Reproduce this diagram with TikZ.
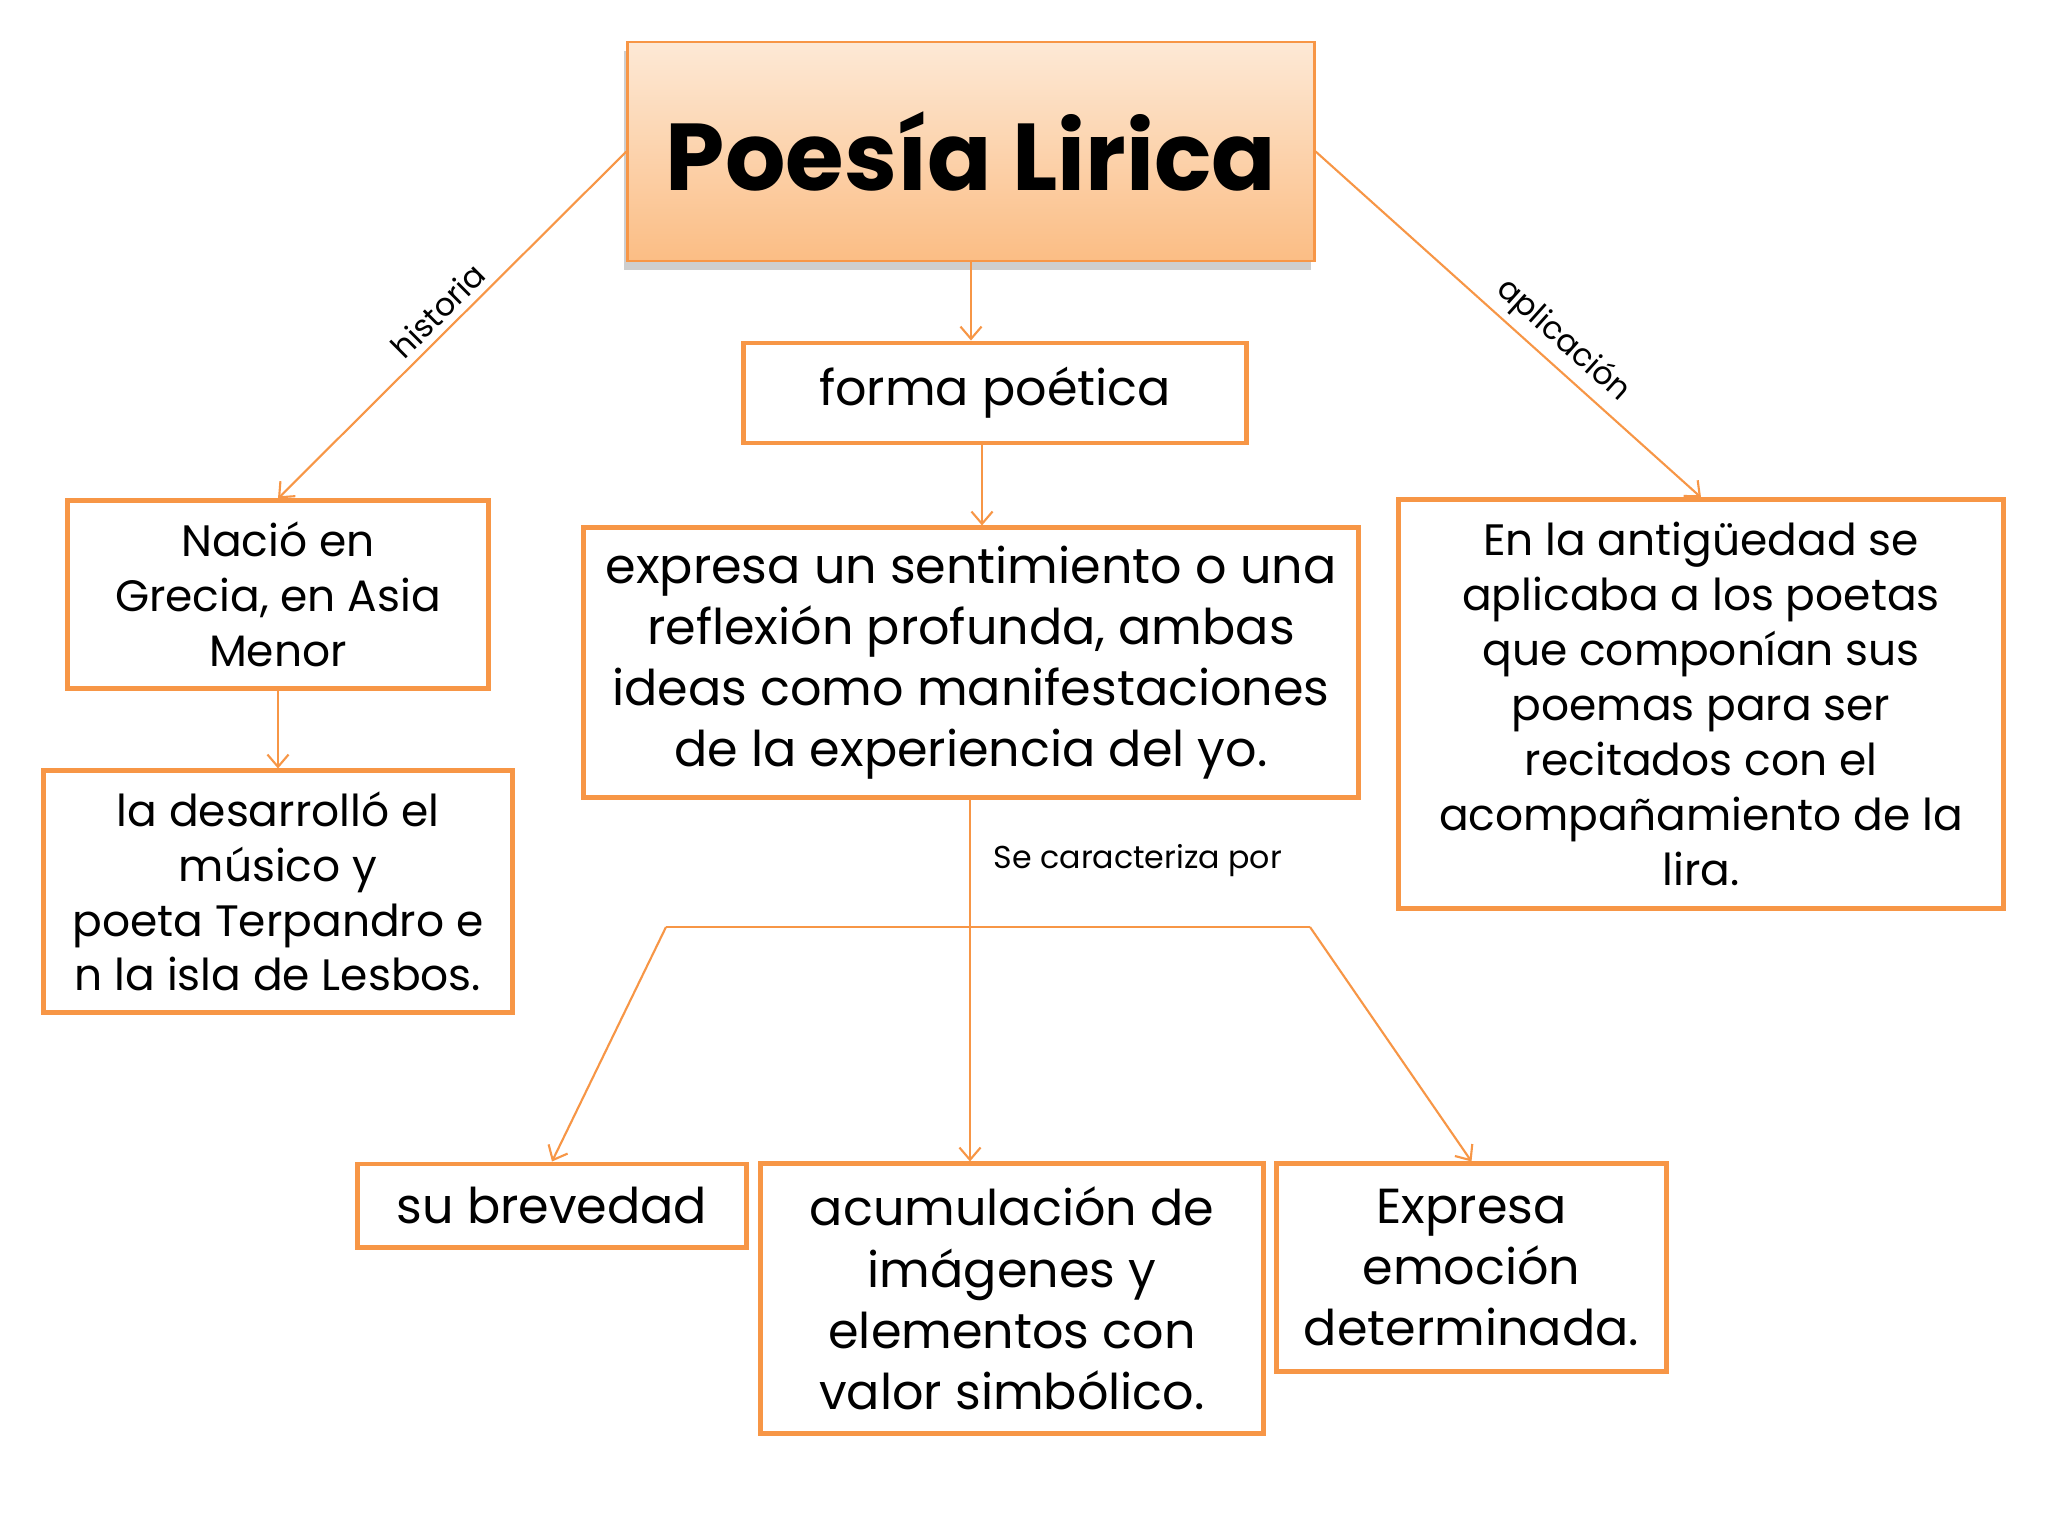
\documentclass[tikz,border=0pt]{standalone}
\usepackage{fontspec}
\setmainfont{Poppins}
\usetikzlibrary{arrows.meta,shadows}
\definecolor{lirorange}{RGB}{247,150,70}
\definecolor{lirtop}{RGB}{253,233,214}
\definecolor{lirbottom}{RGB}{251,189,132}
\tikzset{
  link/.style={-{Straight Barb[length=3.5pt,width=6pt]}, draw=lirorange, line width=0.6pt},
  plainlink/.style={draw=lirorange, line width=0.6pt},
  conceptbox/.style={draw=lirorange, line width=1.4pt, fill=white, align=center, inner sep=2pt},
  bigtext/.style={font=\fontsize{14}{17.4}\selectfont},
  smalltext/.style={font=\fontsize{12.5}{15.6}\selectfont},
  titlebox/.style={draw=lirorange, line width=0.8pt, top color=lirtop, bottom color=lirbottom,
    drop shadow={shadow xshift=-1pt, shadow yshift=-2.5pt, opacity=0.35, fill=black!55},
    font=\fontsize{27}{32}\selectfont\bfseries, inner sep=1pt},
  edgelabel/.style={font=\fontsize{9}{11}\selectfont, inner sep=2pt}
}

\begin{document}
\begin{tikzpicture}[x=0.01cm, y=-0.01cm]
  \useasboundingbox[fill=white] (0,0) rectangle (2048,1536);
  % main concept
  \node[titlebox, minimum width=6.86cm, minimum height=2.19cm] (title) at (971,151.5) {Poesía Lirica};
  % middle column
  \node[conceptbox, bigtext, minimum width=5.02cm, minimum height=1.00cm] (forma) at (995,393) {forma poética};
  \node[conceptbox, bigtext, minimum width=7.74cm, minimum height=2.69cm] (expresa) at (971,662.5)
    {\rule{0pt}{8pt}expresa un sentimiento o una\\ reflexión profunda, ambas\\ ideas como manifestaciones\\ de la experiencia del yo.};
  % left column
  \node[conceptbox, smalltext, minimum width=4.20cm, minimum height=1.87cm] (nacio) at (278,594.5)
    {Nació en\\ Grecia, en Asia\\ Menor};
  \node[conceptbox, smalltext, minimum width=4.68cm, minimum height=2.41cm] (lesbos) at (278,891.5)
    {la desarrolló el\\ músico y\\ poeta Terpandro e\\ n la isla de Lesbos.};
  % right column
  \node[conceptbox, smalltext, minimum width=6.04cm, minimum height=4.08cm] (antigua) at (1701,704)
    {En la antigüedad se\\ aplicaba a los poetas\\ que componían sus\\ poemas para ser\\ recitados con el\\ acompañamiento de la\\ lira.};
  % characteristics
  \node[conceptbox, bigtext, minimum width=3.88cm, minimum height=0.83cm] (breve) at (552,1205.5) {su brevedad};
  \node[conceptbox, bigtext, minimum width=5.02cm, minimum height=2.69cm] (acumula) at (1012,1298.5)
    {acumulación de\\ imágenes y\\ elementos con\\ valor simbólico.};
  \node[conceptbox, bigtext, minimum width=3.89cm, minimum height=2.07cm] (emocion) at (1471.5,1267.5)
    {Expresa\\ emoción\\ determinada.};

  \draw[link] (title.west) -- node[edgelabel, midway, sloped, above] {historia} (nacio.north);
  \draw[link] (title.east) -- node[edgelabel, pos=0.6, sloped, above] {aplicación} (antigua.north);
  \draw[link] (title.south) -- (title.south |- forma.north);
  \draw[link] (forma.south -| 982,0) -- (expresa.north -| 982,0);
  \draw[link] (nacio.south) -- (lesbos.north);

  \coordinate (split) at (970,927);
  \coordinate (splitleft) at (666,927);
  \coordinate (splitright) at (1310,927);
  \draw[link] (expresa.south -| split) -- (acumula.north -| split);
  \draw[plainlink] (splitleft) -- (splitright);
  \draw[link] (splitleft) -- (breve.north);
  \draw[link] (splitright) -- (emocion.north);
  \node[edgelabel, anchor=west] (caract) at (986,861) {Se caracteriza por};
\end{tikzpicture}
\end{document}
